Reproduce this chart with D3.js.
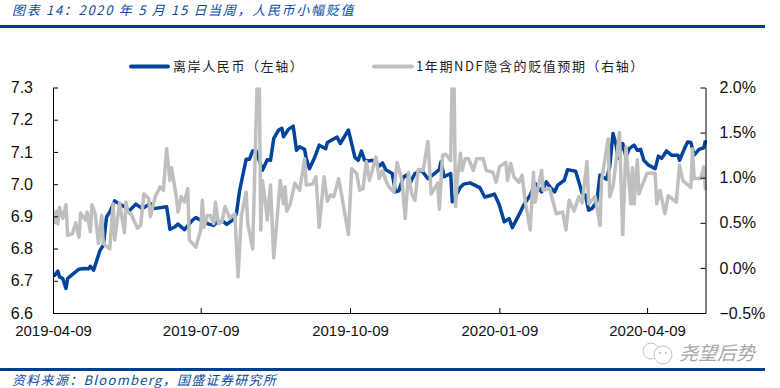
<!DOCTYPE html>
<html>
<head>
<meta charset="utf-8">
<script src="https://cdn.jsdelivr.net/npm/d3@7"></script>
<style>
html, body { margin: 0; padding: 0; background: #fff; }
svg { display: block; }
.axis text { font-family: "Liberation Sans", sans-serif; fill: #111; }
.note { font-family: "Noto Sans CJK SC", sans-serif; font-style: italic; fill: #0b4a9e; font-size: 13px; }
.legend-label { font-family: "Noto Sans CJK SC", sans-serif; font-size: 13px; fill: #222; letter-spacing: 1.6px; }
</style>
</head>
<body>
<div id="chart"></div>
<script>
const startDate = "2019-04-09";
const endDate = "2020-05-15";
const xTickLabels = ["2019-04-09", "2019-07-09", "2019-10-09", "2020-01-09", "2020-04-09"];
const leftTicks = [6.6, 6.7, 6.8, 6.9, 7.0, 7.1, 7.2, 7.3];
const rightTicks = [-0.5, 0, 0.5, 1.0, 1.5, 2.0];

// days since startDate
const cnhDays = [0,1,3,4,6,8,9,12,16,19,22,23,25,29,31,33,35,38,41,44,47,51,55,60,62,70,71,72,75,77,81,86,88,91,96,99,101,105,107,111,113,115,119,121,123,125,129,132,134,136,139,141,142,145,148,150,152,155,156,158,161,164,168,169,172,175,177,182,184,186,188,190,192,194,197,201,203,205,209,211,213,216,218,220,223,227,231,235,238,239,241,245,246,251,253,257,261,263,266,269,272,275,278,281,283,288,290,294,297,299,301,304,306,309,311,315,317,322,324,326,328,330,332,335,337,341,343,345,347,348,351,353,355,358,360,362,364,367,371,373,375,378,381,385,386,389,391,393,395,398,401,402];
const cnhValues = [6.717,6.717,6.73,6.712,6.707,6.676,6.707,6.72,6.736,6.738,6.737,6.745,6.733,6.795,6.81,6.898,6.914,6.948,6.938,6.93,6.917,6.938,6.924,6.94,6.924,6.93,6.898,6.86,6.867,6.876,6.859,6.888,6.896,6.888,6.876,6.872,6.882,6.884,6.875,6.89,6.909,6.981,7.077,7.077,7.103,7.105,7.043,7.076,7.074,7.142,7.168,7.173,7.147,7.17,7.18,7.105,7.116,7.108,7.08,7.048,7.08,7.121,7.11,7.129,7.138,7.146,7.126,7.168,7.126,7.083,7.074,7.103,7.074,7.072,7.074,7.056,7.066,7.045,7.033,6.976,6.979,7.023,7.028,7.004,7.033,7.043,7.017,7.033,7.045,7.069,7.023,7.033,6.945,6.99,7.0,7.004,6.994,6.989,6.96,6.964,6.969,6.935,6.883,6.893,6.865,6.914,6.935,6.966,7.002,6.99,6.976,7.007,6.992,6.976,6.997,7.012,7.045,7.04,7.007,6.971,6.966,6.919,6.924,6.945,7.028,7.015,7.054,7.157,7.121,7.08,7.126,7.085,7.11,7.121,7.105,7.108,7.074,7.059,7.048,7.087,7.08,7.103,7.09,7.09,7.074,7.11,7.131,7.129,7.09,7.108,7.113,7.136];

const ndfDays = [0,1,2,3,4,6,8,9,12,14,16,17,20,21,23,24,26,28,30,31,35,37,38,41,44,45,46,48,52,54,56,59,60,63,66,68,70,72,73,76,77,79,81,83,84,88,91,92,93,95,97,99,100,102,104,106,109,112,114,116,119,120,123,126,127,128,129,131,132,134,136,138,140,142,143,144,146,149,152,155,156,160,162,164,167,169,171,173,176,178,182,184,187,189,191,193,195,199,201,203,205,207,210,212,215,217,219,221,223,225,228,231,233,237,238,240,242,245,246,247,248,249,251,252,254,256,259,261,265,267,271,273,275,279,280,282,284,287,289,291,294,296,297,301,302,306,310,314,316,318,321,324,326,329,330,334,337,338,342,343,345,349,351,353,356,357,358,360,361,366,371,372,374,377,379,384,386,388,393,394,395,399,401,402];
const ndfValues = [0.62,0.50,0.63,0.49,0.67,0.55,0.70,0.36,0.38,0.50,0.34,0.61,0.53,0.62,0.40,0.70,0.60,0.27,0.58,0.27,0.21,0.71,0.31,0.72,0.39,0.73,0.62,0.60,0.44,0.47,0.82,0.77,0.57,0.79,0.90,0.86,1.32,0.97,1.11,0.79,0.62,0.79,0.73,0.88,0.31,0.23,0.42,0.75,0.45,0.58,0.58,0.49,0.73,0.49,0.51,0.68,0.55,0.60,-0.10,0.57,0.84,0.49,0.21,2.2,2.2,0.42,0.97,0.71,0.53,0.92,0.11,0.53,0.97,0.71,0.90,0.63,0.70,0.94,0.86,1.21,0.92,0.93,1.01,0.45,1.01,0.74,0.81,0.79,0.99,0.79,0.37,1.10,1.05,0.86,0.88,1.18,0.97,1.23,0.99,1.08,0.97,0.90,0.84,1.17,0.97,0.55,1.06,0.82,0.75,1.09,1.08,1.40,0.82,0.94,0.65,1.25,1.26,1.19,2.2,2.2,0.68,0.97,1.27,1.08,1.21,1.21,1.08,1.21,1.21,1.08,1.06,0.95,1.12,1.17,0.97,1.16,1.01,0.95,1.03,0.73,0.42,1.06,0.73,1.08,0.86,0.88,0.60,0.62,0.42,0.75,0.63,0.79,0.72,1.18,0.71,0.79,0.47,0.97,1.43,0.79,0.90,1.50,0.37,1.34,0.71,1.11,0.71,1.20,0.82,1.05,1.05,0.71,0.86,0.60,0.80,0.73,1.14,0.97,0.89,1.32,0.99,0.99,1.12,0.86];

const width = 780, height = 388;
const plot = { left: 53, right: 705.5, top: 87.5, bottom: 313 };
const blue = "#00459b", grey = "#bfbfbf", ruleBlue = "#003f92";

const svg = d3.select("#chart").append("svg")
    .attr("width", width)
    .attr("height", height);

const parseDay = d3.utcParse("%Y-%m-%d");
const start = parseDay(startDate);

const xScale = d3.scaleUtc()
    .domain([start, parseDay(endDate)])
    .range([plot.left, plot.right]);
const yLeft = d3.scaleLinear().domain([6.6, 7.3]).range([plot.bottom, plot.top]);
const yRight = d3.scaleLinear().domain([-0.5, 2.0]).range([plot.bottom, plot.top]);

const cnh = cnhDays.map((d, i) => ({ date: d3.utcDay.offset(start, d), value: cnhValues[i] }));
const ndf = ndfDays.map((d, i) => ({ date: d3.utcDay.offset(start, d), value: ndfValues[i] }));

// spikes run past the top of the axis
svg.append("clipPath").attr("id", "plot-clip")
    .append("rect")
    .attr("x", plot.left)
    .attr("y", plot.top)
    .attr("width", plot.right - plot.left + 2)
    .attr("height", plot.bottom - plot.top);

const lines = svg.append("g").attr("clip-path", "url(#plot-clip)");
lines.append("path")
    .datum(cnh)
    .attr("fill", "none")
    .attr("stroke", blue)
    .attr("stroke-width", 3.5)
    .attr("stroke-linejoin", "round")
    .attr("d", d3.line().x(d => xScale(d.date)).y(d => yLeft(d.value)));
lines.append("path")
    .datum(ndf)
    .attr("fill", "none")
    .attr("stroke", grey)
    .attr("stroke-width", 3.5)
    .attr("stroke-linejoin", "round")
    .attr("d", d3.line().x(d => xScale(d.date)).y(d => yRight(d.value)));

// x axis
const xAxis = svg.append("g")
    .attr("class", "axis")
    .attr("transform", `translate(0,${plot.bottom})`)
    .call(d3.axisBottom(xScale)
        .tickValues(xTickLabels.map(parseDay))
        .tickFormat(d3.utcFormat("%Y-%m-%d"))
        .tickSizeInner(-5)
        .tickSizeOuter(0)
        .tickPadding(12));
xAxis.selectAll("text").attr("font-size", "15px");

// left axis
const leftAxis = svg.append("g")
    .attr("class", "axis")
    .attr("transform", `translate(${plot.left},0)`)
    .call(d3.axisLeft(yLeft)
        .tickValues(leftTicks)
        .tickFormat(d3.format(".1f"))
        .tickSizeInner(-5)
        .tickSizeOuter(0)
        .tickPadding(20));
leftAxis.selectAll("text").attr("font-size", "16px");

// right axis
const rightAxis = svg.append("g")
    .attr("class", "axis")
    .attr("transform", `translate(${plot.right},0)`)
    .call(d3.axisRight(yRight)
        .tickValues(rightTicks)
        .tickFormat(d => d3.format(".1f")(d) + "%")
        .tickSizeInner(-5)
        .tickSizeOuter(0)
        .tickPadding(14));
rightAxis.selectAll("text").attr("font-size", "16px");
svg.selectAll(".axis path, .axis line").attr("stroke", "#000").attr("stroke-width", 1);

// legend
const legendItems = [
    { label: "离岸人民币（左轴）", color: blue, x1: 131, x2: 168, tx: 173 },
    { label: "1年期NDF隐含的贬值预期（右轴）", color: grey, x1: 374, x2: 412, tx: 416 }
];
const legend = svg.append("g").attr("class", "legend");
legend.selectAll("line")
    .data(legendItems)
    .join("line")
    .attr("x1", d => d.x1)
    .attr("x2", d => d.x2)
    .attr("y1", 66.5)
    .attr("y2", 66.5)
    .attr("stroke", d => d.color)
    .attr("stroke-width", 4)
    .attr("stroke-linecap", "round");
legend.selectAll("text")
    .data(legendItems)
    .join("text")
    .attr("class", "legend-label")
    .attr("x", d => d.tx)
    .attr("y", 71)
    .text(d => d.label);

// title, footer and their rules
svg.append("text")
    .attr("class", "note")
    .attr("x", 12)
    .attr("y", 15)
    .attr("letter-spacing", "1.7px")
    .text("图表 14：2020 年 5 月 15 日当周，人民币小幅贬值");
svg.append("rect")
    .attr("x", 0).attr("y", 25)
    .attr("width", 765).attr("height", 3)
    .attr("fill", ruleBlue);
svg.append("rect")
    .attr("x", 0).attr("y", 368)
    .attr("width", 765).attr("height", 3)
    .attr("fill", ruleBlue);
svg.append("text")
    .attr("class", "note")
    .attr("x", 12)
    .attr("y", 385)
    .attr("letter-spacing", "1.3px")
    .text("资料来源：Bloomberg，国盛证券研究所");

// watermark
const mark = svg.append("g").attr("fill", "#fff").attr("stroke", "#c4c4c4").attr("stroke-width", 1);
mark.append("circle").attr("cx", 651).attr("cy", 351).attr("r", 8);
mark.append("circle").attr("cx", 663).attr("cy", 355).attr("r", 9);
mark.append("circle").attr("cx", 660).attr("cy", 353).attr("r", 0.8);
mark.append("circle").attr("cx", 666).attr("cy", 353).attr("r", 0.8);
svg.append("text")
    .attr("x", 679)
    .attr("y", 360)
    .attr("font-family", "Noto Sans CJK SC, sans-serif")
    .attr("font-style", "italic")
    .attr("font-size", "19px")
    .attr("fill", "#a8a8a8")
    .text("尧望后势");
</script>
</body>
</html>
